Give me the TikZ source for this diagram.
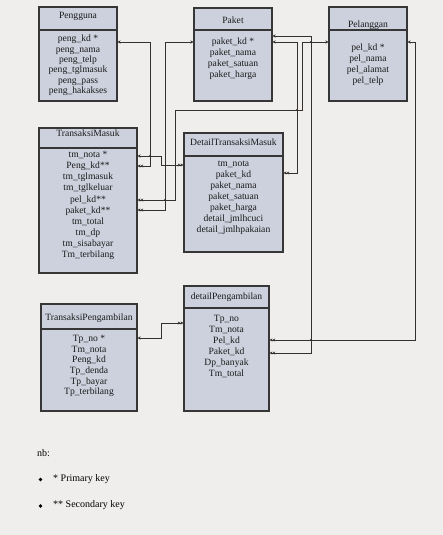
\documentclass[tikz,border=0pt]{standalone}
\usepackage{fontspec}
\setmainfont{Liberation Serif}
\usetikzlibrary{arrows.meta}
\definecolor{bg}{HTML}{EFEEEC}
\definecolor{boxfill}{HTML}{CDD1DD}
\definecolor{boxline}{HTML}{363636}
\definecolor{conn}{HTML}{33302E}
\definecolor{txt}{HTML}{1A1A1A}
\tikzset{
  tbl/.style={draw=boxline, line width=1.2pt, fill=boxfill, inner sep=0pt},
  hdr/.style={draw=boxline, line width=1.2pt},
  ttl/.style={font=\fontsize{9.6}{11}\selectfont, text height=1.6ex, text depth=.45ex, inner sep=0pt, text=txt},
  attr/.style={font=\fontsize{9.6}{11}\selectfont, text height=1.6ex, text depth=.45ex, inner sep=0pt, text=txt},
  rel/.style={draw=conn, line width=0.85pt,
    {Stealth[length=2.8pt,width=3pt]Stealth[length=2.8pt,width=3pt]}-{Stealth[length=3pt,width=3.2pt]}},
  legend/.style={font=\fontsize{10}{12}\selectfont, inner sep=0pt, anchor=west, text=black}
}
\begin{document}
\begin{tikzpicture}[x=1pt,y=-1pt]
\fill[bg] (0,0) rectangle (443,535);
\useasboundingbox (0,0) rectangle (443,535);

% ---------- tables ----------
% Pengguna
\node[tbl, minimum width=78pt, minimum height=94pt] (pg) at (78,54) {};
\draw[hdr] (pg.west |- 0,30) -- (pg.east |- 0,30);
\node[ttl] (pgt) at (78,16) {Pengguna};
\foreach \t [count=\i] in {peng\_kd *, peng\_nama, peng\_telp, peng\_tglmasuk, peng\_pass, peng\_hakakses}
  \node[attr] (pg-\i) at (78,{39+10.4*(\i-1)}) {\t};

% Paket
\node[tbl, minimum width=78pt, minimum height=93pt] (pk) at (233,54.5) {};
\draw[hdr] (pk.west |- 0,30) -- (pk.east |- 0,30);
\node[ttl] (pkt) at (233,21) {Paket};
\foreach \t [count=\i] in {paket\_kd *, paket\_nama, paket\_satuan, paket\_harga}
  \node[attr] (pk-\i) at (233,{42+11*(\i-1)}) {\t};

% Pelanggan
\node[tbl, minimum width=78pt, minimum height=94pt] (pl) at (368,54) {};
\draw[hdr] (pl.west |- 0,30) -- (pl.east |- 0,30);
\node[ttl] (plt) at (368,25) {Pelanggan};
\foreach \t [count=\i] in {pel\_kd *, pel\_nama, pel\_alamat, pel\_telp}
  \node[attr] (pl-\i) at (368,{48+11*(\i-1)}) {\t};

% TransaksiMasuk
\node[tbl, minimum width=98pt, minimum height=145pt] (tm) at (88,200.5) {};
\draw[hdr] (tm.west |- 0,148) -- (tm.east |- 0,148);
\node[ttl] (tmt) at (88,134) {TransaksiMasuk};
\foreach \t [count=\i] in {tm\_nota *, Peng\_kd**, tm\_tglmasuk, tm\_tglkeluar, pel\_kd**, paket\_kd**, tm\_total, tm\_dp, tm\_sisabayar, Tm\_terbilang}
  \node[attr] (tm-\i) at (88,{155+11.1*(\i-1)}) {\t};

% DetailTransaksiMasuk
\node[tbl, minimum width=99pt, minimum height=119pt] (dtm) at (233.5,192.5) {};
\draw[hdr] (dtm.west |- 0,156) -- (dtm.east |- 0,156);
\node[ttl] (dtmt) at (233.5,143) {DetailTransaksiMasuk};
\foreach \t [count=\i] in {tm\_nota, paket\_kd, paket\_nama, paket\_satuan, paket\_harga, detail\_jmlhcuci, detail\_jmlhpakaian}
  \node[attr] (dtm-\i) at (233.5,{164+11*(\i-1)}) {\t};

% TransaksiPengambilan
\node[tbl, minimum width=96pt, minimum height=107pt] (tp) at (89,357.5) {};
\draw[hdr] (tp.west |- 0,329) -- (tp.east |- 0,329);
\node[ttl] (tpt) at (89,318) {TransaksiPengambilan};
\foreach \t [count=\i] in {Tp\_no *, Tm\_nota, Peng\_kd, Tp\_denda, Tp\_bayar, Tp\_terbilang}
  \node[attr] (tp-\i) at (89,{339+10.6*(\i-1)}) {\t};

% detailPengambilan
\node[tbl, minimum width=85pt, minimum height=125pt] (dp) at (226.5,348.5) {};
\draw[hdr] (dp.west |- 0,308) -- (dp.east |- 0,308);
\node[ttl] (dpt) at (226.5,297) {detailPengambilan};
\foreach \t [count=\i] in {Tp\_no, Tm\_nota, Pel\_kd, Paket\_kd, Dp\_banyak, Tm\_total}
  \node[attr] (dp-\i) at (226.5,{319+11*(\i-1)}) {\t};

% ---------- relations (FK end first, PK end last) ----------
% Pengguna.peng_kd -> TransaksiMasuk.Peng_kd
\draw[rel] (tm.east |- 0,166) -- (150,166) -- (150,42) -- (pg.east |- 0,42);
% TransaksiMasuk.tm_nota -> DetailTransaksiMasuk.tm_nota
\draw[rel] (dtm.west |- 0,165) -- (161,165) -- (161,156) -- (tm.east |- 0,156);
% Paket.paket_kd -> TransaksiMasuk.paket_kd
\draw[rel] (tm.east |- 0,210) -- (165,210) -- (165,42) -- (pk.west |- 0,42);
% Pelanggan.pel_kd -> TransaksiMasuk.pel_kd
\draw[rel] (tm.east |- 0,200) -- (175,200) -- (175,110) -- (302,110) -- (302,42) -- (pl.west |- 0,42);
% Paket.paket_kd -> DetailTransaksiMasuk.paket_kd
\draw[rel] (dtm.east |- 0,173) -- (297,173) -- (297,42) -- (pk.east |- 0,42);
% Paket.paket_kd -> detailPengambilan.Paket_kd
\draw[rel] (dp.east |- 0,353) -- (311,353) -- (311,36) -- (pk.east |- 0,36);
% Pelanggan.pel_kd -> detailPengambilan.Pel_kd
\draw[rel] (dp.east |- 0,340) -- (415,340) -- (415,42) -- (pl.east |- 0,42);
% TransaksiPengambilan.Tp_no -> detailPengambilan.Tp_no
\draw[rel] (dp.west |- 0,323) -- (161,323) -- (161,338) -- (tp.east |- 0,338);

% junction marks
\foreach \p in {(150,156),(165,200),(297,110),(311,42),(311,340)}
  \fill[conn] \p circle (1.1pt);

% ---------- legend ----------
\node[legend] (nb) at (37,453) {nb:};
\fill[black] (40.5,479.5) circle (1.9pt);
\node[legend] (l1) at (53,479) {* Primary key};
\fill[black] (40.5,506) circle (1.9pt);
\node[legend] (l2) at (53,505.5) {** Secondary key};
\end{tikzpicture}
\end{document}
